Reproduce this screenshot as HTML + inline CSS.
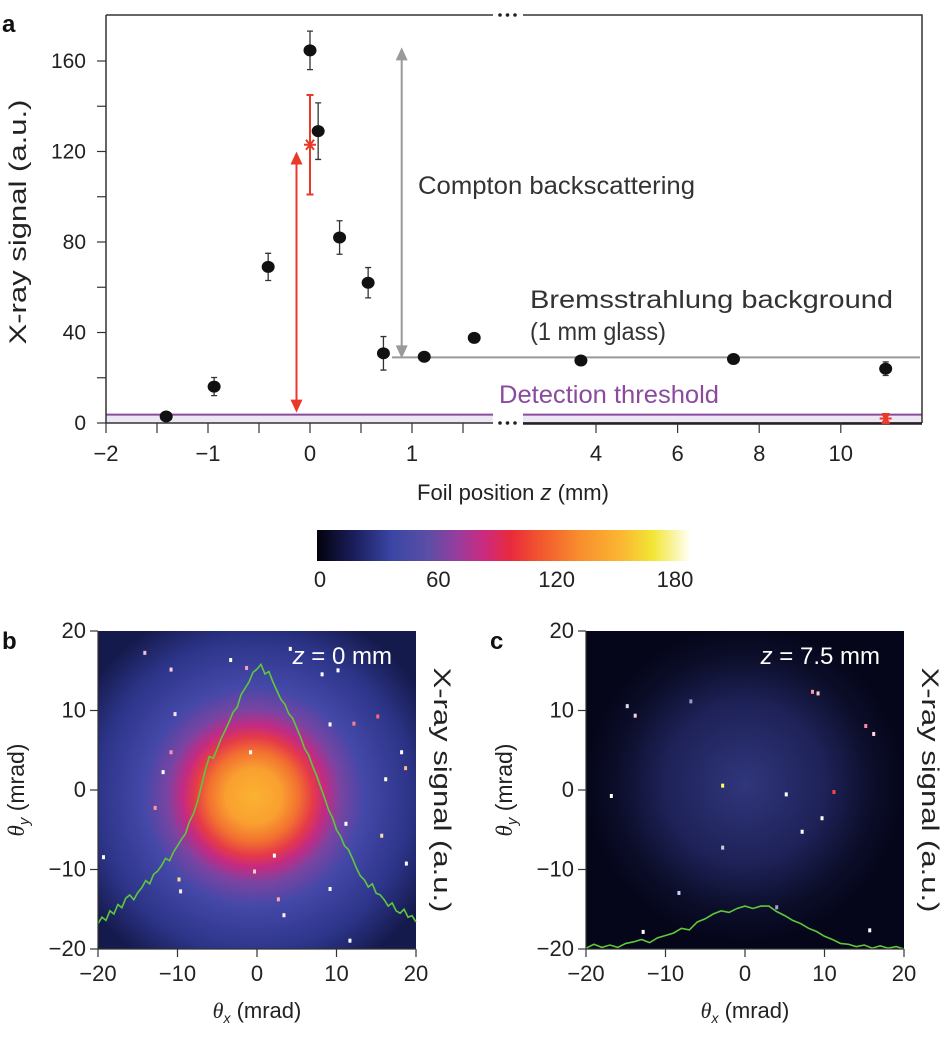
<!DOCTYPE html>
<html><head><meta charset="utf-8"><style>
body{margin:0;background:#fff;}
svg{display:block;font-family:"Liberation Sans Narrow","Liberation Sans",sans-serif;}
</style></head><body>
<svg id="fig" width="946" height="1043" viewBox="0 0 946 1043" xmlns="http://www.w3.org/2000/svg">
<defs>
<linearGradient id="cmap" x1="0" x2="1" y1="0" y2="0">
<stop offset="0" stop-color="#02020c"/><stop offset="0.1" stop-color="#1b1e5c"/><stop offset="0.2" stop-color="#3a46a4"/>
<stop offset="0.3" stop-color="#5c4ea6"/><stop offset="0.38" stop-color="#9a3c9c"/><stop offset="0.45" stop-color="#cc2a7e"/>
<stop offset="0.52" stop-color="#e92a3c"/><stop offset="0.6" stop-color="#f2572e"/><stop offset="0.7" stop-color="#f88c2e"/>
<stop offset="0.82" stop-color="#fbb832"/><stop offset="0.9" stop-color="#f2e634"/><stop offset="1" stop-color="#fffff6"/>
</linearGradient>
<radialGradient id="gb" cx="0.49" cy="0.52" r="0.62">
<stop offset="0" stop-color="#fbb232"/><stop offset="0.14" stop-color="#f9a030"/><stop offset="0.23" stop-color="#f27030"/>
<stop offset="0.3" stop-color="#e53a48"/><stop offset="0.36" stop-color="#c42a82"/><stop offset="0.44" stop-color="#7a44a2"/>
<stop offset="0.56" stop-color="#4448a8"/><stop offset="0.8" stop-color="#2c3488"/><stop offset="1" stop-color="#151a4c"/>
</radialGradient>
<radialGradient id="gc" cx="0.5" cy="0.48" r="0.5">
<stop offset="0" stop-color="#30367c"/><stop offset="0.5" stop-color="#1e2258"/><stop offset="0.8" stop-color="#0c0e2a"/><stop offset="1" stop-color="#05061a"/>
</radialGradient>
</defs>
<g id="panelA"></g>
<g id="panelB"></g>
<g id="panelC"></g>
</svg>
<script>
// ---- Panel a data ----
const zPos=[-1.41,-0.94,-0.41,0.0,0.08,0.29,0.57,0.72,1.12,1.61,3.63,7.37,11.1];
const signal=[2.9,16.1,69,164.7,129,82,62,30.8,29.3,37.6,27.6,28.3,24];
const errs=[1.5,4,6,8.5,12.5,7.4,6.7,7.4,2,1,2,2,3];
const redZ=[0.0,11.1];
const redVal=[123,2];
const redErr=[22,2];
const yTicks=[0,40,80,120,160];
const xTicksLeft=[-2,-1,0,1];
const xTicksRight=[4,6,8,10];
const bgLevel=29, threshold=3.7;
// ---- Panel b/c profiles ----
const bProfX=[-20,-19.5,-19,-18.5,-18,-17.5,-17,-16.5,-16,-15.5,-15,-14.5,-14,-13.5,-13,-12.5,-12,-11.5,-11,-10.5,-10,-9.5,-9,-8.5,-8,-7.5,-7,-6.5,-6,-5.5,-5,-4.5,-4,-3.5,-3,-2.5,-2,-1.5,-1,-0.5,0,0.5,1,1.5,2,2.5,3,3.5,4,4.5,5,5.5,6,6.5,7,7.5,8,8.5,9,9.5,10,10.5,11,11.5,12,12.5,13,13.5,14,14.5,15,15.5,16,16.5,17,17.5,18,18.5,19,19.5,20];
const bProfY=[-16.8,-16,-16.4,-15.2,-15.6,-14.4,-14.8,-13.6,-13.2,-13.8,-12.9,-12.3,-11.4,-11.8,-10.6,-10.2,-9.5,-8.6,-8.9,-7.8,-7,-6.2,-5.5,-4,-3,-1.5,0.5,2.5,4.2,4,5.2,6.5,7.5,8.6,9.8,10.4,12,12.8,13.6,14.8,15.2,15.8,14.6,14.9,13.6,12.5,11.4,10.8,9.6,9,7.8,6.6,5.2,4.4,3,1.8,0.4,-1,-2.5,-3.5,-5,-5.8,-7,-7.5,-8.6,-9.8,-10.8,-11.3,-12.2,-11.8,-13,-13.2,-13.8,-14.6,-14.2,-15.2,-15.5,-15,-16,-15.8,-16.6];
const cProfX=[-20,-19,-18,-17,-16,-15,-14,-13,-12,-11,-10,-9,-8,-7,-6,-5,-4,-3,-2,-1,0,1,2,3,4,5,6,7,8,9,10,11,12,13,14,15,16,17,18,19,20];
const cProfY=[-19.9,-19.4,-19.8,-19.5,-19.8,-19.3,-19.1,-18.8,-19.2,-18.6,-18.3,-18,-17.4,-17.6,-16.6,-16.2,-15.6,-15.2,-15.4,-14.9,-14.6,-14.9,-14.6,-14.6,-15.3,-15.8,-16.4,-16.8,-17.4,-17.8,-18.4,-18.8,-19.3,-19.4,-19.7,-19.5,-19.9,-19.6,-19.9,-19.7,-20];
const imgTicks=[-20,-10,0,10,20];
const cbTicks=[0,60,120,180];

const NS="http://www.w3.org/2000/svg";
function mk(parent,tag,attrs,text){const e=document.createElementNS(NS,tag);for(const k in attrs)e.setAttribute(k,attrs[k]);if(text!==undefined)e.textContent=text;parent.appendChild(e);return e;}
const A=document.getElementById('panelA');
function xs(z){return z<1.9?106+(z+2)*102:596+(z-4)*40.8;}
function ys(v){return 423-v*2.2625;}

let e=mk(A,'rect',{x:106,y:ys(threshold),width:387,height:423-ys(threshold),fill:'#efe6f3'});

e=mk(A,'rect',{x:523,y:ys(threshold),width:399,height:423-ys(threshold),fill:'#efe6f3'});

e=mk(A,'line',{x1:106,x2:493,y1:ys(threshold),y2:ys(threshold),stroke:'#8a4a9e','stroke-width':2});

e=mk(A,'line',{x1:523,x2:922,y1:ys(threshold),y2:ys(threshold),stroke:'#8a4a9e','stroke-width':2});

e=mk(A,'path',{d:'M106,15 H493 M523,15 H922 V423 M106,15 V423 H493 M523,423 H922',fill:'none',stroke:'#333','stroke-width':1.5});

e=mk(A,'line',{x1:523,x2:922,y1:423.5,y2:423.5,stroke:'#222','stroke-width':2.5});

for(const yy of [15,423]){for(let i=0;i<3;i++){e=mk(A,'circle',{cx:500+i*7.5,cy:yy,r:1.8,fill:'#222'});
}}
for(let v=0;v<=160;v+=20){e=mk(A,'line',{x1:97,x2:106,y1:ys(v),y2:ys(v),stroke:'#333','stroke-width':1.2});
}
yTicks.forEach(v=>{e=mk(A,'text',{x:86,y:ys(v)+7,'font-size':21,'text-anchor':'end',fill:'#222'},String(v));
});
for(let z=-2;z<=1.6;z+=0.5){e=mk(A,'line',{x1:xs(z),x2:xs(z),y1:423,y2:433,stroke:'#333','stroke-width':1.2});
}
xTicksRight.forEach(z=>{e=mk(A,'line',{x1:xs(z),x2:xs(z),y1:423,y2:433,stroke:'#333','stroke-width':1.2});
});
xTicksLeft.concat(xTicksRight).forEach(z=>{e=mk(A,'text',{x:xs(z),y:461,'font-size':22,'text-anchor':'middle',fill:'#222'},String(z).replace('-','\u2212'));
});
e=mk(A,'text',{x:513,y:500,'font-size':22,'text-anchor':'middle',fill:'#222'});
e.innerHTML='Foil position <tspan font-style="italic">z</tspan> (mm)';

e=mk(A,'text',{x:0,y:0,'font-size':24,'text-anchor':'middle',fill:'#222',transform:'translate(26,222) rotate(-90)',textLength:245,lengthAdjust:'spacingAndGlyphs'},'X-ray signal (a.u.)');

e=mk(A,'text',{x:2,y:32,'font-size':24,'font-weight':'bold',fill:'#111','font-family':'Liberation Sans, sans-serif'},'a');

e=mk(A,'line',{x1:392,x2:920,y1:ys(bgLevel),y2:ys(bgLevel),stroke:'#999','stroke-width':2});

function arrow(x,y1,y2,col,name){const g=mk(A,'g',{});
mk(g,'line',{x1:x,x2:x,y1:y1+10,y2:y2-10,stroke:col,'stroke-width':2});
mk(g,'path',{d:`M${x-6},${y1+13} L${x},${y1} L${x+6},${y1+13} Z`,fill:col});
mk(g,'path',{d:`M${x-6},${y2-13} L${x},${y2} L${x+6},${y2-13} Z`,fill:col});}
arrow(401.7,ys(166),ys(bgLevel)+1,'#9a9a9a','compton-arrow');
arrow(296.5,ys(120),ys(threshold)-2,'#e8392a','signal-arrow');
e=mk(A,'text',{x:418,y:194,'font-size':25,fill:'#333',textLength:277,lengthAdjust:'spacingAndGlyphs'},'Compton backscattering');

e=mk(A,'text',{x:530,y:308,'font-size':25,fill:'#333',textLength:363,lengthAdjust:'spacingAndGlyphs'},'Bremsstrahlung background');

e=mk(A,'text',{x:530,y:340,'font-size':25,fill:'#333',textLength:136,lengthAdjust:'spacingAndGlyphs'},'(1 mm glass)');

e=mk(A,'text',{x:499,y:403,'font-size':25,fill:'#8a4a9e',textLength:220,lengthAdjust:'spacingAndGlyphs'},'Detection threshold');

zPos.forEach((z,i)=>{const g=mk(A,'g',{});
const x=xs(z),y=ys(signal[i]),t=ys(signal[i]+errs[i]),b=ys(signal[i]-errs[i]);
mk(g,'path',{d:`M${x},${t} V${b} M${x-3},${t} H${x+3} M${x-3},${b} H${x+3}`,stroke:'#333','stroke-width':1.3,fill:'none'});
mk(g,'ellipse',{cx:x,cy:y,rx:6.5,ry:6,fill:'#111'});});
redZ.forEach((z,i)=>{const g=mk(A,'g',{});
const x=xs(z),y=ys(redVal[i]),t=ys(redVal[i]+redErr[i]),b=ys(redVal[i]-redErr[i]);
mk(g,'path',{d:`M${x},${t} V${b} M${x-3.5},${t} H${x+3.5} M${x-3.5},${b} H${x+3.5}`,stroke:'#e8392a','stroke-width':2,fill:'none'});
mk(g,'path',{d:`M${x-6},${y} H${x+6} M${x-4},${y-5} L${x+4},${y+5} M${x-4},${y+5} L${x+4},${y-5}`,stroke:'#e8392a','stroke-width':2});});

e=mk(A,'rect',{x:317,y:530,width:373,height:31,fill:'url(#cmap)'});

cbTicks.forEach(v=>{e=mk(A,'text',{x:320+v/180*355,y:587,'font-size':22,'text-anchor':'middle',fill:'#222'},String(v));
});

function panel(G,x0,letter,grad,label,px,py,name,specks){
const w=318,y0=631,s=w/40;
const X=v=>x0+(v+20)*s, Y=v=>y0+(20-v)*s;
e=mk(G,'rect',{x:x0,y:y0,width:w,height:w,fill:grad});

specks.forEach(p=>{e=mk(G,'rect',{x:X(p[0]),y:Y(p[1]),width:3,height:4,fill:p[2]});
});
e=mk(G,'polyline',{points:px.map((v,i)=>X(v)+','+Y(py[i])).join(' '),fill:'none',stroke:'#5fc83a','stroke-width':1.6});

e=mk(G,'path',{d:`M${x0},${y0} V${y0+w} H${x0+w}`,fill:'none',stroke:'#333','stroke-width':1.2});

imgTicks.forEach(v=>{
 e=mk(G,'line',{x1:X(v),x2:X(v),y1:y0+w,y2:y0+w+8,stroke:'#333','stroke-width':1.2});
 
 e=mk(G,'line',{x1:x0-8,x2:x0,y1:Y(v),y2:Y(v),stroke:'#333','stroke-width':1.2});
 
 e=mk(G,'text',{x:X(v),y:y0+w+32,'font-size':22,'text-anchor':'middle',fill:'#222'},String(v).replace('-','\u2212'));
 
 e=mk(G,'text',{x:x0-12,y:Y(v)+7,'font-size':22,'text-anchor':'end',fill:'#222'},String(v).replace('-','\u2212'));
 });
e=mk(G,'text',{x:x0+w/2,y:1018,'font-size':22,'text-anchor':'middle',fill:'#222'});
e.innerHTML='<tspan font-style="italic" font-family="Liberation Serif, serif">θ</tspan><tspan font-size="14" dy="5" font-style="italic">x</tspan><tspan dy="-5"> (mrad)</tspan>';

e=mk(G,'text',{x:0,y:0,'font-size':23,'text-anchor':'middle',fill:'#222',transform:`translate(${x0-74},790) rotate(-90)`});
e.innerHTML='<tspan font-style="italic" font-family="Liberation Serif, serif">θ</tspan><tspan font-size="15" dy="5" font-style="italic">y</tspan><tspan dy="-5"> (mrad)</tspan>';

e=mk(G,'text',{x:0,y:0,'font-size':24,'text-anchor':'middle',fill:'#222',transform:`translate(${x0+w+18},790) rotate(90)`,textLength:245,lengthAdjust:'spacingAndGlyphs'},'X-ray signal (a.u.)');

e=mk(G,'text',{x:x0+w-24,y:664,'font-size':24,'text-anchor':'end',fill:'#fff'});
e.innerHTML=label;

e=mk(G,'text',{x:x0-96,y:y0+18,'font-size':24,'font-weight':'bold',fill:'#111','font-family':'Liberation Sans, sans-serif'},letter);

}
panel(document.getElementById('panelB'),98,'b','url(#gb)','<tspan font-style="italic">z</tspan> = 0 mm',bProfX,bProfY,'panel-b',
[[-14.3,17.5,'#f0c0d0'],[-11,15.4,'#ffd0e0'],[-3.5,16.6,'#fff'],[-1.5,15.6,'#f8a0c0'],[4,18,'#fff'],[8,14.8,'#fff'],[10,15.3,'#fff'],[-10.5,9.8,'#ffe0f0'],[9,8.5,'#fff'],[12,8.6,'#ff8090'],[15,9.5,'#f66'],[-11,5,'#ff90b0'],[-1,5,'#fff'],[18,5,'#fff'],[-12,2.5,'#fff'],[16,1.6,'#ffd'],[18.5,3,'#fb8'],[-13,-2,'#f99'],[11,-4,'#fff'],[15.5,-5.5,'#fda'],[-19.5,-8.2,'#fff'],[2,-8,'#fff'],[-0.5,-10,'#fcc'],[-10,-11,'#fd8'],[-9.8,-12.5,'#fee'],[9,-12.2,'#fff'],[2.5,-13.5,'#faa'],[3.2,-15.5,'#fee'],[11.5,-18.7,'#fff'],[18.6,-9,'#fff']]);
panel(document.getElementById('panelC'),586,'c','url(#gc)','<tspan font-style="italic">z</tspan> = 7.5 mm',cProfX,cProfY,'panel-c',
[[-15,10.8,'#dde'],[-14,9.6,'#fcd'],[-7,11.4,'#99c'],[8.3,12.6,'#f99'],[9,12.4,'#fcc'],[15,8.3,'#f8a'],[16,7.3,'#fdd'],[-3,0.8,'#ff6'],[5,-0.3,'#fff'],[11,0,'#f44'],[-17,-0.5,'#fff'],[9.5,-3.3,'#fff'],[7,-5,'#fff'],[-3,-7,'#ccd'],[-8.5,-12.7,'#ccf'],[3.8,-14.5,'#a9d'],[15.5,-17.4,'#fff'],[-13,-17.6,'#fff']]);
</script>
</body></html>
